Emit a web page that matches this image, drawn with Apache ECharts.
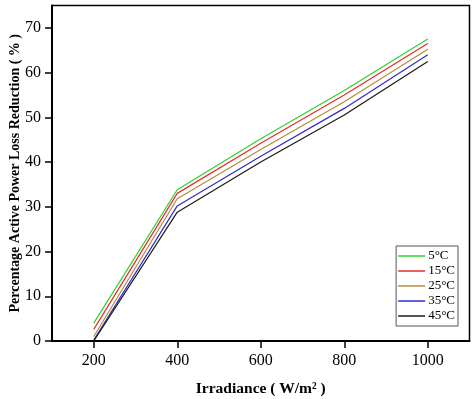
<!DOCTYPE html>
<html>
<head>
<meta charset="utf-8">
<script src="https://cdn.jsdelivr.net/npm/echarts@6/dist/echarts.min.js"></script>
<style>
  html, body { margin: 0; padding: 0; background: #fff; }
  #chart { width: 474px; height: 399px; }
</style>
</head>
<body>
<div id="chart"></div>
<script>
// irradiance values (W/m2)
const irradiance = [200, 400, 600, 800, 1000];
const xTicks = [200, 400, 600, 800, 1000];
const yTicks = [0, 10, 20, 30, 40, 50, 60, 70];

// percentage active power loss reduction per temperature
const t5 = [4.0, 33.8, 45.2, 56.0, 67.5];
const t15 = [2.6, 33.0, 44.2, 55.0, 66.5];
const t25 = [1.0, 31.8, 42.8, 53.5, 65.2];
const t35 = [0.2, 30.2, 41.3, 52.0, 64.0];
const t45 = [0.0, 28.8, 40.0, 50.5, 62.5];

const seriesNames = ['5°C', '15°C', '25°C', '35°C', '45°C'];
const seriesData = [t5, t15, t25, t35, t45];
const colorList = ['#2ed12e', '#e52b2b', '#b48c3c', '#2d2dc8', '#1a1a1a'];

const font = "'Liberation Serif', 'Times New Roman', serif";

const chart = echarts.init(document.getElementById('chart'));

const option = {
  animation: false,
  grid: {
    left: 52,
    right: 4.5,
    top: 5.5,
    bottom: 58,
    outerBoundsMode: 'none',
    containLabel: false,
    show: true,
    borderColor: '#000',
    borderWidth: 1.5
  },
  legend: {
    orient: 'vertical',
    right: 16,
    top: 246,
    padding: [3, 3, 3, 2],
    itemGap: 1,
    itemWidth: 27,
    itemHeight: 1.5,
    icon: 'rect',
    borderColor: '#555',
    borderWidth: 1,
    backgroundColor: '#fff',
    data: seriesNames,
    textStyle: { fontFamily: font, fontSize: 13, lineHeight: 14, color: '#000', padding: [0, 0, 0, -2] }
  },
  xAxis: {
    type: 'value',
    min: 100,
    max: 1100,
    name: 'Irradiance ( W/m² )',
    nameLocation: 'middle',
    nameGap: 40,
    nameMoveOverlap: false,
    nameTextStyle: { fontFamily: font, fontSize: 15.5, fontWeight: 'bold', color: '#000' },
    splitLine: { show: false },
    axisLine: { lineStyle: { color: '#000', width: 2 } },
    axisTick: { inside: false, length: 7, customValues: xTicks, lineStyle: { color: '#000', width: 1.5 } },
    axisLabel: {
      customValues: xTicks,
      margin: 12,
      fontFamily: font,
      fontSize: 16,
      color: '#000',
      formatter: (v) => String(v)
    }
  },
  yAxis: {
    type: 'value',
    min: 0,
    max: 75,
    name: 'Percentage Active Power Loss Reduction ( % )',
    nameLocation: 'middle',
    nameGap: 30,
    nameMoveOverlap: false,
    nameTextStyle: { fontFamily: font, fontSize: 14, fontWeight: 'bold', color: '#000' },
    splitLine: { show: false },
    axisLine: { show: true, lineStyle: { color: '#000', width: 2 } },
    axisTick: { show: true, length: 7, customValues: yTicks, lineStyle: { color: '#000', width: 1.5 } },
    axisLabel: {
      customValues: yTicks,
      margin: 11,
      fontFamily: font,
      fontSize: 16,
      color: '#000'
    }
  },
  series: seriesNames.map((name, i) => ({
    name: name,
    type: 'line',
    symbol: 'none',
    color: colorList[i],
    lineStyle: { width: 1.2, color: colorList[i] },
    data: irradiance.map((x, j) => [x, seriesData[i][j]])
  }))
};

chart.setOption(option);
</script>
</body>
</html>
